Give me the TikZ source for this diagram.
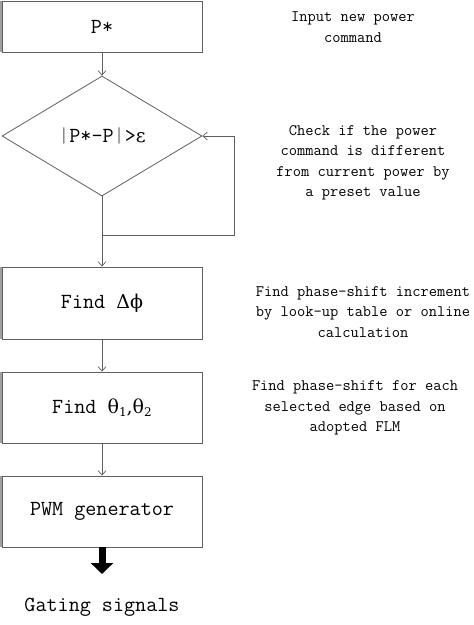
\documentclass[tikz,border=0pt]{standalone}
\usepackage{fontspec}
\newfontfamily\grk{DejaVu Serif}
\usetikzlibrary{arrows.meta,shapes.geometric}
\definecolor{edge}{RGB}{95,95,95}
\definecolor{leftbar}{RGB}{160,160,160}
\begin{document}
\begin{tikzpicture}[x=1pt,y=-1pt,
  stepbox/.style={draw=edge,line width=0.8pt,minimum width=200pt,inner sep=0pt,font=\ttfamily\fontsize{21.5}{24}\selectfont},
  decision/.style={draw=edge,line width=0.8pt,diamond,aspect=1.6667,minimum width=200pt,minimum height=120pt,inner sep=0pt,font=\ttfamily\fontsize{21.5}{24}\selectfont},
  note/.style={align=center,font=\ttfamily\fontsize{16}{20.5}\selectfont,inner sep=0pt},
  arr/.style={draw=edge,line width=0.7pt,-{Straight Barb[length=4.5pt,width=8pt]}},
  bigarr/.style={line width=7pt,-{Triangle[length=11pt,width=22pt]}},
  leftedge/.style={draw=leftbar,line width=2.5pt}]
\useasboundingbox (0,0) rectangle (474,625);
\node[stepbox,minimum height=51pt] (b1) at (102,26.5) {P*};
\node[decision] (d) at (102,136) {{\color{gray}|}P*-P{\color{gray}|}>{\grk\fontsize{19}{22}\selectfont ε}};
\node[stepbox,minimum height=72pt] (b2) at (102,303) {Find {\grk\fontsize{19}{22}\selectfont Δϕ}};
\node[stepbox,minimum height=71pt] (b3) at (102,407.5) {Find {\grk\fontsize{19}{22}\selectfont θ\raisebox{-3pt}{\fontsize{12}{12}\selectfont 1},θ\raisebox{-3pt}{\fontsize{12}{12}\selectfont 2}}};
\node[stepbox,minimum height=71pt] (b4) at (102,511.5) {PWM generator};
\node[font=\ttfamily\fontsize{21.5}{24}\selectfont,inner sep=0pt] (g) at (102,607) {Gating signals};
\foreach \b in {b1,b2,b3,b4} \draw[leftedge] ([xshift=-1pt]\b.north west) -- ([xshift=-1pt]\b.south west);
\draw[arr] (b1.south) -- (d.north);
\draw[arr] (d.south) -- (b2.north);
\coordinate (j) at (102,235);
\draw[arr] (j) -- ++(132,0) |- (d.east);
\draw[arr] (b2.south) -- (b3.north);
\draw[arr] (b3.south) -- (b4.north);
\coordinate (gt) at (102,574);
\draw[bigarr] (b4.south) -- (gt);
\node[note] (n1) at (353,27) {Input new power\\command};
\node[note] (n2) at (363,163) {Check if the power\\command is different\\from current power by\\a preset value};
\node[note] (n3) at (363,312) {Find phase-shift increment\\by look-up table or online\\calculation};
\node[note] (n4) at (355,408) {Find phase-shift for each\\selected edge based on\\adopted FLM};
\end{tikzpicture}
\end{document}
